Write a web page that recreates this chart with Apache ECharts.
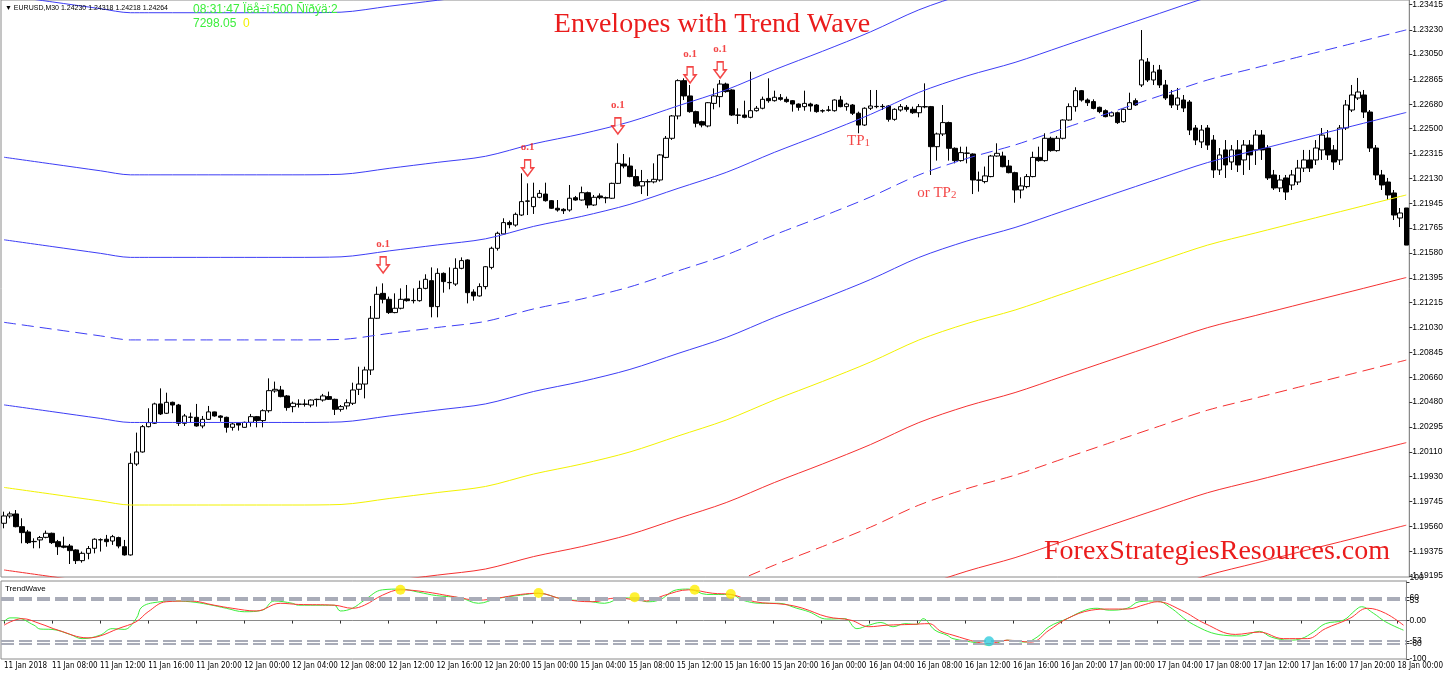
<!DOCTYPE html>
<html><head><meta charset="utf-8">
<script src="https://cdn.jsdelivr.net/npm/echarts@6/dist/echarts.min.js"></script>
<style>html,body{margin:0;padding:0;background:#fff;}#c{width:1446px;height:676px;}</style>
</head><body><div id="c"></div>
<script>
// ---- candle values: [open, close, low, high], M30 bars from 11 Jan 2018 04:00 ----
const candles = [
[1.19583,1.19637,1.19546,1.19669],[1.19637,1.19652,1.19620,1.19669],[1.19652,1.19558,1.19553,1.19681],[1.19558,1.19514,1.19435,1.19620],
[1.19519,1.19440,1.19430,1.19534],[1.19447,1.19449,1.19398,1.19472],[1.19460,1.19477,1.19398,1.19489],[1.19479,1.19509,1.19472,1.19529],
[1.19509,1.19440,1.19430,1.19514],[1.19447,1.19410,1.19349,1.19460],[1.19415,1.19406,1.19398,1.19484],[1.19415,1.19381,1.19282,1.19430],
[1.19386,1.19307,1.19282,1.19391],[1.19307,1.19361,1.19292,1.19374],[1.19361,1.19396,1.19317,1.19415],[1.19398,1.19465,1.19361,1.19472],
[1.19460,1.19462,1.19374,1.19472],[1.19465,1.19447,1.19410,1.19497],[1.19452,1.19484,1.19423,1.19497],[1.19477,1.19415,1.19398,1.19484],
[1.19410,1.19349,1.19344,1.19460],[1.19349,1.20026,1.19344,1.20100],[1.20021,1.20110,1.20007,1.20253],[1.20110,1.20297,1.20105,1.20309],
[1.20297,1.20327,1.20292,1.20433],[1.20322,1.20465,1.20317,1.20474],[1.20465,1.20391,1.20383,1.20580],[1.20396,1.20477,1.20391,1.20548],
[1.20477,1.20457,1.20396,1.20482],[1.20457,1.20322,1.20302,1.20465],[1.20322,1.20376,1.20302,1.20391],[1.20366,1.20368,1.20327,1.20401],
[1.20366,1.20302,1.20297,1.20465],[1.20302,1.20351,1.20285,1.20376],[1.20351,1.20406,1.20346,1.20450],[1.20406,1.20376,1.20371,1.20408],
[1.20376,1.20366,1.20334,1.20381],[1.20366,1.20292,1.20253,1.20371],[1.20292,1.20317,1.20268,1.20327],[1.20322,1.20309,1.20268,1.20327],
[1.20292,1.20329,1.20290,1.20334],[1.20329,1.20371,1.20297,1.20391],[1.20371,1.20342,1.20292,1.20376],[1.20342,1.20415,1.20292,1.20425],
[1.20415,1.20563,1.20401,1.20654],[1.20561,1.20573,1.20548,1.20630],[1.20568,1.20519,1.20514,1.20598],[1.20524,1.20438,1.20415,1.20531],
[1.20445,1.20470,1.20403,1.20482],[1.20462,1.20464,1.20438,1.20499],[1.20464,1.20462,1.20445,1.20499],[1.20457,1.20494,1.20440,1.20499],
[1.20499,1.20497,1.20445,1.20504],[1.20494,1.20524,1.20482,1.20539],[1.20519,1.20499,1.20494,1.20556],[1.20499,1.20425,1.20383,1.20504],
[1.20425,1.20445,1.20408,1.20457],[1.20450,1.20474,1.20425,1.20499],[1.20470,1.20568,1.20457,1.20622],[1.20573,1.20612,1.20531,1.20740],
[1.20612,1.20716,1.20506,1.20740],[1.20716,1.21098,1.20679,1.21189],[1.21098,1.21275,1.21093,1.21332],[1.21282,1.21238,1.21208,1.21356],
[1.21238,1.21140,1.21130,1.21258],[1.21140,1.21172,1.21135,1.21282],[1.21172,1.21238,1.21164,1.21319],[1.21241,1.21228,1.21221,1.21344],
[1.21228,1.21230,1.21208,1.21319],[1.21228,1.21319,1.21221,1.21376],[1.21319,1.21386,1.21312,1.21423],[1.21376,1.21184,1.21105,1.21474],
[1.21184,1.21430,1.21105,1.21467],[1.21430,1.21369,1.21287,1.21437],[1.21361,1.21363,1.21312,1.21474],[1.21351,1.21467,1.21337,1.21541],
[1.21467,1.21524,1.21460,1.21548],[1.21529,1.21287,1.21208,1.21534],[1.21292,1.21263,1.21228,1.21312],[1.21263,1.21332,1.21258,1.21356],
[1.21332,1.21479,1.21312,1.21484],[1.21474,1.21615,1.21460,1.21627],[1.21615,1.21726,1.21598,1.21738],[1.21721,1.21805,1.21714,1.21837],
[1.21805,1.21790,1.21763,1.21820],[1.21787,1.21866,1.21775,1.21879],[1.21861,1.21960,1.21854,1.22169],[1.21965,1.21963,1.21861,1.22095],
[1.21923,1.21992,1.21869,1.22100],[1.21992,1.22021,1.21985,1.22046],[1.22016,1.21967,1.21960,1.22100],[1.21967,1.21911,1.21906,1.21972],
[1.21911,1.21898,1.21886,1.21972],[1.21903,1.21893,1.21869,1.21911],[1.21898,1.21985,1.21886,1.22083],[1.21989,1.21972,1.21967,1.22002],
[1.21972,1.22026,1.21967,1.22071],[1.22026,1.21935,1.21911,1.22034],[1.21935,1.21992,1.21928,1.22009],[1.22002,1.21989,1.21977,1.22021],
[1.21989,1.21987,1.21948,1.21997],[1.21985,1.22095,1.21980,1.22100],[1.22095,1.22243,1.22090,1.22391],[1.22238,1.22223,1.22206,1.22312],
[1.22223,1.22145,1.22140,1.22287],[1.22145,1.22076,1.22071,1.22199],[1.22076,1.22108,1.22016,1.22194],[1.22108,1.22106,1.22002,1.22125],
[1.22106,1.22125,1.22095,1.22243],[1.22120,1.22305,1.22108,1.22312],[1.22287,1.22428,1.22280,1.22445],[1.22428,1.22593,1.22416,1.22600],
[1.22593,1.22854,1.22568,1.22864],[1.22854,1.22741,1.22711,1.22871],[1.22741,1.22625,1.22617,1.22822],[1.22625,1.22539,1.22509,1.22632],
[1.22551,1.22526,1.22509,1.22558],[1.22519,1.22691,1.22509,1.22696],[1.22686,1.22741,1.22642,1.22797],[1.22736,1.22829,1.22657,1.22859],
[1.22829,1.22773,1.22765,1.22839],[1.22785,1.22600,1.22593,1.22790],[1.22600,1.22598,1.22534,1.22650],[1.22600,1.22583,1.22576,1.22706],
[1.22583,1.22632,1.22576,1.22920],[1.22632,1.22650,1.22625,1.22667],[1.22650,1.22716,1.22642,1.22736],[1.22723,1.22706,1.22691,1.22871],
[1.22706,1.22731,1.22699,1.22780],[1.22728,1.22716,1.22706,1.22755],[1.22716,1.22699,1.22691,1.22736],[1.22706,1.22681,1.22625,1.22711],
[1.22681,1.22657,1.22632,1.22686],[1.22662,1.22686,1.22632,1.22780],[1.22681,1.22667,1.22625,1.22691],[1.22674,1.22625,1.22617,1.22681],
[1.22632,1.22630,1.22617,1.22642],[1.22637,1.22635,1.22625,1.22667],[1.22632,1.22711,1.22625,1.22716],[1.22711,1.22662,1.22657,1.22741],
[1.22662,1.22681,1.22632,1.22691],[1.22674,1.22613,1.22600,1.22681],[1.22613,1.22526,1.22465,1.22625],[1.22526,1.22650,1.22519,1.22657],
[1.22650,1.22667,1.22637,1.22785],[1.22662,1.22664,1.22650,1.22785],[1.22664,1.22662,1.22637,1.22681],[1.22667,1.22568,1.22551,1.22674],
[1.22568,1.22642,1.22558,1.22650],[1.22637,1.22662,1.22625,1.22681],[1.22657,1.22642,1.22625,1.22674],[1.22642,1.22617,1.22608,1.22662],
[1.22617,1.22662,1.22583,1.22681],[1.22662,1.22660,1.22650,1.22834],[1.22662,1.22366,1.22157,1.22667],[1.22366,1.22460,1.22263,1.22470],
[1.22460,1.22544,1.22445,1.22674],[1.22544,1.22354,1.22263,1.22551],[1.22354,1.22263,1.22243,1.22361],[1.22263,1.22322,1.22255,1.22366],
[1.22317,1.22319,1.22243,1.22366],[1.22312,1.22120,1.22016,1.22317],[1.22120,1.22118,1.22034,1.22182],[1.22108,1.22150,1.22095,1.22219],
[1.22145,1.22297,1.22140,1.22305],[1.22297,1.22317,1.22292,1.22391],[1.22297,1.22218,1.22214,1.22329],[1.22223,1.22174,1.22169,1.22268],
[1.22174,1.22046,1.21952,1.22181],[1.22046,1.22076,1.21984,1.22140],[1.22071,1.22145,1.22058,1.22164],[1.22145,1.22287,1.22140,1.22329],
[1.22287,1.22263,1.22255,1.22366],[1.22263,1.22428,1.22255,1.22465],[1.22428,1.22337,1.22329,1.22440],[1.22337,1.22428,1.22329,1.22445],
[1.22428,1.22563,1.22420,1.22568],[1.22563,1.22662,1.22558,1.22686],[1.22662,1.22780,1.22625,1.22805],[1.22780,1.22711,1.22699,1.22785],
[1.22711,1.22691,1.22667,1.22723],[1.22699,1.22649,1.22642,1.22716],[1.22657,1.22625,1.22613,1.22662],[1.22632,1.22588,1.22583,1.22642],
[1.22593,1.22617,1.22588,1.22625],[1.22617,1.22544,1.22534,1.22625],[1.22551,1.22642,1.22544,1.22649],[1.22642,1.22691,1.22637,1.22765],
[1.22706,1.22674,1.22667,1.22723],[1.22822,1.23007,1.22807,1.23228],[1.22992,1.22859,1.22844,1.23021],[1.22859,1.22918,1.22822,1.22970],
[1.22933,1.22822,1.22800,1.22970],[1.22822,1.22726,1.22711,1.22859],[1.22748,1.22674,1.22652,1.22785],[1.22674,1.22726,1.22637,1.22800],
[1.22711,1.22652,1.22622,1.22748],[1.22696,1.22489,1.22452,1.22711],[1.22504,1.22415,1.22378,1.22526],[1.22401,1.22489,1.22356,1.22526],
[1.22504,1.22378,1.22342,1.22526],[1.22415,1.22194,1.22135,1.22452],[1.22194,1.22305,1.22157,1.22356],[1.22342,1.22231,1.22135,1.22415],
[1.22253,1.22342,1.22194,1.22378],[1.22342,1.22231,1.22179,1.22415],[1.22268,1.22378,1.22157,1.22415],[1.22378,1.22305,1.22194,1.22415],
[1.22342,1.22452,1.22231,1.22489],[1.22452,1.22342,1.22268,1.22489],[1.22356,1.22135,1.22120,1.22378],[1.22157,1.22061,1.22046,1.22194],
[1.22061,1.22120,1.22031,1.22157],[1.22135,1.22031,1.21972,1.22157],[1.22083,1.22157,1.22046,1.22194],[1.22105,1.22208,1.22083,1.22268],
[1.22208,1.22268,1.22179,1.22342],[1.22268,1.22208,1.22179,1.22342],[1.22268,1.22356,1.22231,1.22415],[1.22342,1.22452,1.22268,1.22504],
[1.22430,1.22305,1.22268,1.22489],[1.22342,1.22253,1.22194,1.22378],[1.22268,1.22504,1.22231,1.22526],[1.22504,1.22674,1.22489,1.22711],
[1.22637,1.22748,1.22622,1.22822],[1.22726,1.22770,1.22711,1.22874],[1.22748,1.22622,1.22578,1.22785],[1.22622,1.22356,1.22327,1.22637],
[1.22356,1.22157,1.22120,1.22378],[1.22157,1.22083,1.22046,1.22194],[1.22105,1.22009,1.21972,1.22135],[1.22024,1.21861,1.21824,1.22046],
[1.21839,1.21876,1.21772,1.21913],[1.21913,1.21639,1.21639,1.21913]
];

// ---- time axis ----
const tickBars = [0,8,16,24,32,40,48,56,64,72,80,88,96,104,112,120,128,136,144,152,160,168,176,184,192,200,208,216,224,232];
const tickLabels = ['11 Jan 2018','11 Jan 08:00','11 Jan 12:00','11 Jan 16:00','11 Jan 20:00','12 Jan 00:00','12 Jan 04:00','12 Jan 08:00','12 Jan 12:00','12 Jan 16:00','12 Jan 20:00','15 Jan 00:00','15 Jan 04:00','15 Jan 08:00','15 Jan 12:00','15 Jan 16:00','15 Jan 20:00','16 Jan 00:00','16 Jan 04:00','16 Jan 08:00','16 Jan 12:00','16 Jan 16:00','16 Jan 20:00','17 Jan 00:00','17 Jan 04:00','17 Jan 08:00','17 Jan 12:00','17 Jan 16:00','17 Jan 20:00','18 Jan 00:00'];

// ---- price axis ticks ----
const priceTicks = [1.23415,1.23230,1.23050,1.22865,1.22680,1.22500,1.22315,1.22130,1.21945,1.21765,1.21580,1.21395,1.21215,1.21030,1.20845,1.20660,1.20480,1.20295,1.20110,1.19930,1.19745,1.19560,1.19375,1.19195];
const oscTicks = [100,60,53,0,-53,-60,-100];
const oscLevels = [60,53,-53,-60];

// ---- envelope lines (sampled bars) ----
const envBars = [0,8,16,21,24,32,40,48,56,64,72,80,88,96,104,112,120,128,136,144,152,160,168,176,184,192,200,208,216,224,232,233];
const envCenter = [1.19848,1.19798,1.19748,1.19718,1.19718,1.19718,1.19718,1.19718,1.19722,1.19766,1.19810,1.19855,1.19947,1.20021,1.20110,1.20228,1.20346,1.20494,1.20631,1.20775,1.20937,1.21059,1.21159,1.21280,1.21401,1.21521,1.21639,1.21729,1.21819,1.21908,1.21998,1.22009];
const envU1 = [1.20458,1.20408,1.20358,1.20328,1.20328,1.20328,1.20328,1.20328,1.20332,1.20376,1.20420,1.20465,1.20557,1.20631,1.20720,1.20838,1.20956,1.21104,1.21241,1.21385,1.21547,1.21669,1.21769,1.21890,1.22011,1.22131,1.22249,1.22339,1.22429,1.22518,1.22608,1.22619];
const envU2 = [1.21068,1.21018,1.20968,1.20938,1.20938,1.20938,1.20938,1.20938,1.20942,1.20986,1.21030,1.21075,1.21167,1.21241,1.21330,1.21448,1.21566,1.21714,1.21851,1.21995,1.22157,1.22279,1.22379,1.22500,1.22621,1.22741,1.22859,1.22949,1.23039,1.23128,1.23218,1.23229];
const envU3 = [1.21678,1.21628,1.21578,1.21548,1.21548,1.21548,1.21548,1.21548,1.21552,1.21596,1.21640,1.21685,1.21777,1.21851,1.21940,1.22058,1.22176,1.22324,1.22461,1.22605,1.22767,1.22889,1.22989,1.23110,1.23231,1.23351,1.23469,1.23559,1.23649];
const envU4 = [1.22288,1.22238,1.22188,1.22158,1.22158,1.22158,1.22158,1.22158,1.22162,1.22206,1.22250,1.22295,1.22387,1.22461,1.22550,1.22668,1.22786,1.22934,1.23071,1.23215,1.23377,1.23499,1.23599];
const envU6 = [1.23486,1.23436,1.23386,1.23356,1.23356,1.23356,1.23356,1.23356,1.23360,1.23404,1.23448,1.23493,1.23585];
const envL1 = [1.19238,1.19188,1.19138,1.19108,1.19108,1.19108,1.19108,1.19108,1.19112,1.19156,1.19200,1.19245,1.19337,1.19411,1.19500,1.19618,1.19736,1.19884,1.20021,1.20165,1.20327,1.20449,1.20549,1.20670,1.20791,1.20911,1.21029,1.21119,1.21209,1.21298,1.21388,1.21399];
const envL2 = [1.18890,1.19008,1.19126,1.19274,1.19411,1.19555,1.19717,1.19839,1.19939,1.20060,1.20181,1.20301,1.20419,1.20509,1.20599,1.20688,1.20778,1.20789];
const envL3 = [1.18945,1.19107,1.19229,1.19329,1.19450,1.19571,1.19691,1.19809,1.19899,1.19989,1.20078,1.20168,1.20179];
const envL4 = [1.18961,1.19081,1.19199,1.19289,1.19379,1.19468,1.19558,1.19569];

// ---- TrendWave oscillator ----
const greenBars = [0,1,2,5,6,8,11,13,16,18,20,22,23,26,28,31,34,37,40,43,45,48,49,53,55,56,58,60,63,66,69,72,76,79,82,86,89,93,97,100,103,105,107,109,112,114,117,121,123,126,129,132,134,137,140,142,144,146,148,150,152,153,155,157,158,162,164,167,170,172,174,177,180,182,184,187,189,192,194,198,203,206,209,211,214,216,218,220,223,225,226,228,230,233];
const greenVals = [-3,7,7,-12,-22,-23,-36,-47,-38,-21,-23,5,36,49,51,49,42,32,23,27,51,45,40,40,40,25,32,53,80,82,74,65,59,45,57,66,71,56,51,45,59,59,49,53,80,82,68,68,53,45,45,32,23,4,5,-21,-12,-5,-16,-8,-10,5,-25,-38,-47,-58,-64,-51,-56,-43,-16,5,27,32,27,32,49,51,36,-10,-38,-40,-28,-43,-51,-47,-30,-8,1,27,36,19,-3,-25];
const redBars = [0,3,6,9,14,16,19,22,24,27,31,35,38,42,46,49,55,58,60,63,66,70,75,79,82,86,89,93,98,102,107,110,114,118,121,125,130,133,137,141,144,147,151,154,156,158,162,164,167,171,174,177,181,184,187,190,192,196,200,205,209,213,217,220,224,227,230,233];
const redVals = [-12,5,-8,-25,-45,-40,-21,-3,23,49,51,40,32,25,45,42,40,32,40,66,80,75,62,53,58,68,71,56,49,59,51,66,80,71,68,49,42,32,10,1,-16,-12,-10,-8,-28,-38,-56,-60,-51,-56,-25,5,27,30,30,42,49,27,-8,-36,-30,-47,-47,-21,5,32,19,-12];
const signalBars = [66,89,105,115,121];
const signalVals = [80,72,61,80,69];
const lowSignalBars = [164];
const lowSignalVals = [-54];

// ---- annotations ----
const arrowBars = [63,87,102,114,119];
const arrowPrices = [1.21492,1.22209,1.22519,1.22896,1.22933];
const tpBars = [142,155];
const tpPrices = [1.22408,1.22024];
const tpTexts = ['{a|TP}{b|1}','{a|or TP}{b|2}'];

const cats = candles.map((_, i) => String(i));
const pair = (bs, vs) => vs.map((v, i) => [bs[i], v]);
const SANS = "'Liberation Sans', Arial, sans-serif";
const SERIF = "'Liberation Serif', 'Times New Roman', serif";
const BLUE = '#3d3df5', RED = '#f43030', YEL = '#f2f200';

function env(vals, fromEnd, color, dashed) {
  const bs = fromEnd ? envBars.slice(envBars.length - vals.length) : envBars.slice(0, vals.length);
  return { type: 'line', xAxisIndex: 0, yAxisIndex: 0, data: pair(bs, vals), showSymbol: false,
    smooth: 0.3, clip: true, silent: true, z: 3,
    lineStyle: { color: color, width: 1, type: dashed ? [12, 6] : 'solid' } };
}

const chart = echarts.init(document.getElementById('c'), null, { renderer: 'canvas' });
const tickSet = new Set(tickBars);
chart.setOption({
  animation: false,
  backgroundColor: '#ffffff',
  grid: [
    { left: 1, top: 0, width: 1412, height: 577, show: true, borderColor: '#8a8a8a', borderWidth: 1, backgroundColor: '#fff' },
    { left: 1, top: 581, width: 1412, height: 78, show: true, borderColor: '#8a8a8a', borderWidth: 1, backgroundColor: '#fff' }
  ],
  xAxis: [
    { type: 'category', gridIndex: 0, data: cats, boundaryGap: true, axisLine: { show: false }, axisTick: { show: false }, axisLabel: { show: false }, splitLine: { show: false } },
    { type: 'category', gridIndex: 1, data: cats, boundaryGap: true,
      axisLine: { show: true, lineStyle: { color: '#8a8a8a' } },
      axisTick: { show: true, alignWithLabel: true, length: 3, interval: (i) => tickSet.has(i), lineStyle: { color: '#333' } },
      axisLabel: { interval: (i) => tickSet.has(i), formatter: (v, i) => { const k = tickBars.indexOf(i); return k >= 0 ? tickLabels[k] : ''; },
        align: 'left', fontSize: 8, fontFamily: "'Liberation Sans Narrow', 'DejaVu Sans Condensed', 'Liberation Sans', sans-serif", color: '#000', margin: 3 },
      splitLine: { show: false } }
  ],
  yAxis: [
    { type: 'value', gridIndex: 0, position: 'right', min: 1.19186, max: 1.2345, scale: true,
      axisLine: { show: true, lineStyle: { color: '#8a8a8a' } },
      axisTick: { show: true, customValues: priceTicks, length: 3, lineStyle: { color: '#333' } },
      axisLabel: { customValues: priceTicks, formatter: (v) => v.toFixed(5), fontSize: 8.5, fontFamily: SANS, color: '#000', margin: 3 },
      splitLine: { show: false } },
    { type: 'value', gridIndex: 1, position: 'right', min: -100, max: 103,
      axisLine: { show: true, lineStyle: { color: '#8a8a8a' } },
      axisTick: { show: true, customValues: oscTicks, length: 3, lineStyle: { color: '#333' } },
      axisLabel: { customValues: oscTicks, formatter: (v) => v === 0 ? '0.00' : String(v), fontSize: 8.5, fontFamily: SANS, color: '#000', margin: 3,
        verticalAlignMinLabel: 'bottom' },
      splitLine: { show: false } }
  ],
  series: [
    { type: 'candlestick', xAxisIndex: 0, yAxisIndex: 0, data: candles, barWidth: 5, z: 2,
      itemStyle: { color: '#ffffff', color0: '#000000', borderColor: '#000000', borderColor0: '#000000', borderWidth: 1 } },
    env(envCenter, false, YEL, false),
    env(envU1, false, BLUE, false),
    env(envU2, false, BLUE, true),
    env(envU3, false, BLUE, false),
    env(envU4, false, BLUE, false),
    env(envU6, false, BLUE, false),
    env(envL1, false, RED, false),
    env(envL2, true, RED, true),
    env(envL3, true, RED, false),
    env(envL4, true, RED, false),
    { type: 'scatter', xAxisIndex: 0, yAxisIndex: 0, data: pair(arrowBars, arrowPrices), z: 6, silent: true,
      symbol: 'path://M3,0L9,0L9,8L12,8L6,16L0,8L3,8Z', symbolSize: [12, 16],
      itemStyle: { color: '#ffffff', borderColor: '#f01818', borderWidth: 1.5 },
      label: { show: true, position: 'top', distance: 6, formatter: 'o.1', color: '#f01818', fontFamily: SERIF, fontWeight: 'bold', fontSize: 11 } },
    { type: 'scatter', xAxisIndex: 0, yAxisIndex: 0, data: pair(tpBars, tpPrices), z: 6, silent: true, symbolSize: 1,
      itemStyle: { color: 'rgba(0,0,0,0)' },
      label: { show: true, position: 'inside', formatter: (p) => tpTexts[p.dataIndex],
        rich: { a: { fontFamily: SERIF, fontSize: 15, color: '#f01818' }, b: { fontFamily: SERIF, fontSize: 11, color: '#f01818', padding: [4, 0, 0, 0] } } } },
    { type: 'line', xAxisIndex: 1, yAxisIndex: 1, data: pair(greenBars, greenVals), showSymbol: false, smooth: 0.4, z: 3,
      lineStyle: { color: '#3cee3c', width: 1 },
      markLine: { silent: true, symbol: ['none', 'none'], label: { show: false },
        lineStyle: { color: '#a9acb8', width: 2, type: [13, 5] }, data: oscLevels.map((v) => ({ yAxis: v })) } },
    { type: 'line', xAxisIndex: 1, yAxisIndex: 1, data: pair(redBars, redVals), showSymbol: false, smooth: 0.4, z: 4,
      lineStyle: { color: '#ff3535', width: 1 } },
    { type: 'scatter', xAxisIndex: 1, yAxisIndex: 1, data: pair(signalBars, signalVals), symbolSize: 10, z: 6,
      itemStyle: { color: '#ffee00' } },
    { type: 'scatter', xAxisIndex: 1, yAxisIndex: 1, data: pair(lowSignalBars, lowSignalVals), symbolSize: 10, z: 6,
      itemStyle: { color: '#33ccdd' } }
  ],
  graphic: [
    { type: 'text', x: 5, y: 8, z: 10, style: { text: '▼ EURUSD,M30 1.24230 1.24318 1.24218 1.24264', font: "7px 'Liberation Sans', Arial", fill: '#000', verticalAlign: 'middle' } },
    { type: 'text', x: 193, y: 10, z: 10, style: { text: '08:31:47 Ïëå÷î:500 Ñïðýä:2', font: "12px 'Liberation Sans', Arial", fill: '#3cee3c', verticalAlign: 'middle' } },
    { type: 'text', x: 193, y: 24, z: 10, style: { text: '7298.05', font: "12px 'Liberation Sans', Arial", fill: '#3cee3c', verticalAlign: 'middle' } },
    { type: 'text', x: 243, y: 24, z: 10, style: { text: '0', font: "12px 'Liberation Sans', Arial", fill: '#f0f000', verticalAlign: 'middle' } },
    { type: 'text', x: 712, y: 25, z: 10, style: { text: 'Envelopes with Trend Wave', font: "28px 'Liberation Serif', serif", fill: '#ea1c1c', align: 'center', verticalAlign: 'middle' } },
    { type: 'text', x: 1217, y: 552, z: 10, style: { text: 'ForexStrategiesResources.com', font: "28px 'Liberation Serif', serif", fill: '#ea1c1c', align: 'center', verticalAlign: 'middle' } },
    { type: 'text', x: 5, y: 589, z: 10, style: { text: 'TrendWave', font: "8px 'Liberation Sans', Arial", fill: '#000', verticalAlign: 'middle' } }
  ]
});
</script>
</body></html>
